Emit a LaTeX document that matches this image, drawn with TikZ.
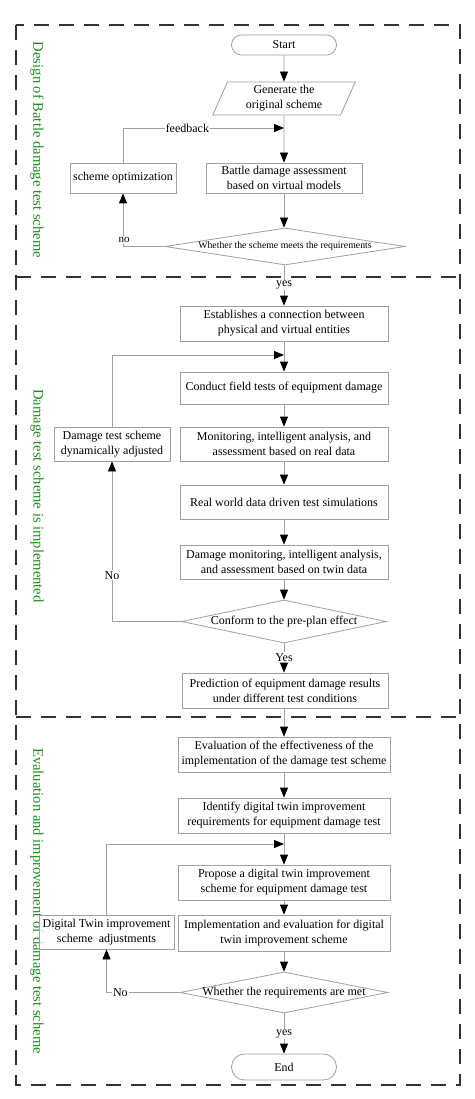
\documentclass[tikz,border=0pt]{standalone}
\usepackage{fontspec}
\setmainfont{Liberation Serif}
\usetikzlibrary{arrows.meta,shapes.geometric,calc}
\definecolor{lnc}{HTML}{A0A0A0}
\definecolor{frm}{HTML}{333333}
\definecolor{grn}{HTML}{1E8C1E}
\begin{document}
\begin{tikzpicture}[x=1pt,y=-1pt,
  box/.style={draw=lnc, line width=0.8pt, fill=white, align=center, inner sep=1pt,
    font=\fontsize{12}{15}\selectfont},
  term/.style={box, rounded corners=#1},
  para/.style={box, trapezium, trapezium left angle=70, trapezium right angle=110,
    trapezium stretches=true},
  dia/.style={diamond, draw=lnc, line width=0.8pt, fill=white, inner sep=0pt},
  conn/.style={draw=lnc, line width=0.8pt},
  arr/.style={conn, -{Triangle[length=10pt,width=8pt,color=black]}},
  lbl/.style={fill=white, inner sep=1pt, font=\fontsize{12}{14}\selectfont},
  dtxt/.style={font=\fontsize{#1}{12}\selectfont, inner sep=0pt},
  sec/.style={text=grn, rotate=-90, font=\fontsize{14.6}{16}\selectfont},
  frame/.style={draw=frm, line width=1.3pt, dash pattern=on 15pt off 10pt}
]
\useasboundingbox (0,0) rectangle (474,1099);

% section labels
\node[sec] (s1) at (37,150) {Design of Battle damage test scheme};
\node[sec] (s2) at (37,496) {Damage test scheme is implemented};
\node[sec] (s3) at (37,901) {Evaluation and improvement of damage test scheme};

% section 1
\node[term=10pt, minimum width=105pt, minimum height=20pt] (start) at (284,45) {Start};
\node[para, minimum width=143pt, minimum height=33pt] (gen) at (284,98.5) {Generate the\\original scheme};
\node[box, minimum width=156pt, minimum height=30pt] (bda) at (284,178) {Battle damage assessment\\based on virtual models};
\node[box, minimum width=106pt, minimum height=30pt] (opt) at (123,178) {scheme optimization};
\node[dia, minimum width=240pt, minimum height=37pt,
  label={[dtxt=9.8]center:Whether the scheme meets the requirements}] (d1) at (285,246.5) {};
\coordinate (fb1) at (284,128);

% section 2
\node[box, minimum width=208pt, minimum height=35pt] (est) at (284,323.5) {Establishes a connection between\\physical and virtual entities};
\node[box, minimum width=208pt, minimum height=32pt] (con) at (284,388) {Conduct field tests of equipment damage};
\node[box, minimum width=208pt, minimum height=34pt] (mon) at (284,444) {Monitoring, intelligent analysis, and\\assessment based on real data};
\node[box, minimum width=116pt, minimum height=34pt] (dyn) at (112,444) {Damage test scheme\\dynamically adjusted};
\node[box, minimum width=208pt, minimum height=34pt] (real) at (284,502) {Real world data driven test simulations};
\node[box, minimum width=208pt, minimum height=34pt] (dmon) at (284,562) {Damage monitoring, intelligent analysis,\\and assessment based on twin data};
\node[dia, minimum width=205pt, minimum height=43pt,
  label={[dtxt=12]center:Conform to the pre-plan effect}] (d2) at (284,621.5) {};
\node[box, minimum width=206pt, minimum height=35pt] (pred) at (285,690.5) {Prediction of equipment damage results\\under different test conditions};
\coordinate (fb2) at (284,355);

% section 3
\node[box, minimum width=212pt, minimum height=35pt] (eval) at (284,754.5) {Evaluation of the effectiveness of the\\implementation of the damage test scheme};
\node[box, minimum width=212pt, minimum height=35pt] (iden) at (284,815.5) {Identify digital twin improvement\\requirements for equipment damage test};
\node[box, minimum width=212pt, minimum height=35pt] (prop) at (284,882.5) {Propose a digital twin improvement\\scheme for equipment damage test};
\node[box, minimum width=212pt, minimum height=36pt] (impl) at (284,933) {Implementation and evaluation for digital\\twin improvement scheme};
\node[box, minimum width=135pt, minimum height=34pt, fill opacity=0.8, text opacity=1] (dig) at (106.5,932) {Digital Twin improvement\\scheme\ \ adjustments};
\node[dia, minimum width=208pt, minimum height=41pt,
  label={[dtxt=12]center:Whether the requirements are met}] (d3) at (284,992.5) {};
\node[term=13pt, minimum width=105pt, minimum height=26pt] (end) at (284,1067) {End};
\coordinate (fb3) at (284,844);

% connectors section 1
\draw[arr] (start) -- (gen);
\draw[arr] (gen) -- (bda);
\draw[arr] (bda) -- (bda.south |- d1.north);
\draw[arr] (d1.west) -| (opt.south);
\node[lbl, font=\fontsize{11}{12}\selectfont] (nol1) at (124,240) {no};
\draw[arr] (opt.north) |- node[lbl, pos=0.7] (fbl) {feedback} (fb1);
\draw[arr] (bda.south |- d1.south) -- node[lbl, pos=0.49] (yes1) {yes} (est.north);

% connectors section 2
\draw[arr] (est) -- (con);
\draw[arr] (dyn.north) |- (fb2);
\draw[arr] (con) -- (mon);
\draw[arr] (mon) -- (real);
\draw[arr] (real) -- (dmon);
\draw[arr] (dmon) -- (d2);
\draw[arr] (d2.west) -| node[lbl, pos=0.644] (no2) {No} (dyn.south);
\draw[arr] (d2.south) -- node[lbl, pos=0.47] (yes2) {Yes} (d2.south |- pred.north);
\draw[arr] (d2.south |- pred.south) -- (eval);

% connectors section 3
\draw[arr] (eval) -- (iden);
\draw[arr] (iden) -- (prop);
\draw[arr] (dig.north) |- (fb3);
\draw[arr] (prop) -- (impl);
\draw[arr] (impl) -- (d3);
\draw[arr] (d3.west) -| node[lbl, pos=0.405] (no3) {No} (dig.south);
\draw[arr] (d3.south) -- node[lbl, pos=0.51] (yes3) {yes} (end.north);

% frame
\draw[frame] (16,25) rectangle (460,1085);
\draw[frame] (16,277) -- (460,277);
\draw[frame] (16,717) -- (460,717);
\end{tikzpicture}
\end{document}
